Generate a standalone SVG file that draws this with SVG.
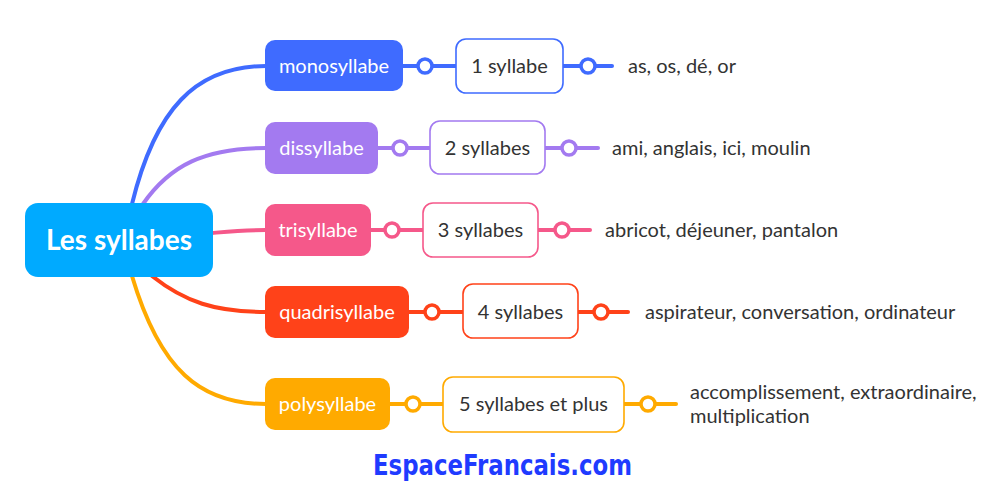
<svg xmlns="http://www.w3.org/2000/svg" width="1000" height="492" viewBox="0 0 1000 492">
<style>
.t{font-family:Lato,"Open Sans","Liberation Sans",sans-serif;font-size:20px;}
.w{fill:#fff;text-anchor:middle;}
.d{fill:#333;}
.m{text-anchor:middle;}
.b2{fill:#fff;stroke-width:1.6;}
.c{fill:none;stroke-width:4;stroke-linecap:round;}
.k{fill:#fff;stroke-width:3.5;}
</style>
<rect width="1000" height="492" fill="#fff"/>
<g id="connectors" class="c">
<path d="M132 204 C155 110 195 66 266 66" stroke="#3F6BFF"/>
<path d="M143 204 C170 165 205 148 266 148" stroke="#A37AF0"/>
<path d="M212 233 C235 231 245 230 266 230" stroke="#F5588A"/>
<path d="M152 276 C185 302 215 312 266 312" stroke="#FF4219"/>
<path d="M132 276 C160 370 200 404 266 404" stroke="#FFAA00"/>
<g stroke="#3F6BFF"><line x1="403" y1="66" x2="456" y2="66"/><line x1="563" y1="66" x2="612" y2="66"/></g>
<g stroke="#A37AF0"><line x1="378" y1="148" x2="430" y2="148"/><line x1="545" y1="148" x2="598" y2="148"/></g>
<g stroke="#F5588A"><line x1="371" y1="230" x2="423" y2="230"/><line x1="538" y1="230" x2="590" y2="230"/></g>
<g stroke="#FF4219"><line x1="409" y1="312" x2="463" y2="312"/><line x1="578" y1="312" x2="628" y2="312"/></g>
<g stroke="#FFAA00"><line x1="390" y1="404" x2="443" y2="404"/><line x1="624" y1="404" x2="676" y2="404"/></g>
<g stroke="#3F6BFF" class="k"><circle cx="425" cy="66" r="7"/><circle cx="588" cy="66" r="7"/></g>
<g stroke="#A37AF0" class="k"><circle cx="400" cy="148" r="7"/><circle cx="569" cy="148" r="7"/></g>
<g stroke="#F5588A" class="k"><circle cx="392" cy="230" r="7"/><circle cx="562" cy="230" r="7"/></g>
<g stroke="#FF4219" class="k"><circle cx="432" cy="312" r="7"/><circle cx="601" cy="312" r="7"/></g>
<g stroke="#FFAA00" class="k"><circle cx="413" cy="404" r="7"/><circle cx="648" cy="404" r="7"/></g>
</g>
<g id="root"><rect x="25" y="203" width="188" height="74" rx="13" fill="#00AAFF"/><text x="119" y="250" class="t w" style="font-size:28px;font-weight:bold">Les syllabes</text></g>
<g id="mono"><rect x="265" y="40" width="138" height="51" rx="10" fill="#3F6BFF"/><text x="334" y="73" class="t w">monosyllabe</text></g>
<g id="di"><rect x="265" y="122" width="113" height="52" rx="10" fill="#A37AF0"/><text x="321.5" y="155" class="t w">dissyllabe</text></g>
<g id="tri"><rect x="265" y="204" width="106" height="52" rx="10" fill="#F5588A"/><text x="318" y="237" class="t w">trisyllabe</text></g>
<g id="quadri"><rect x="265" y="286" width="144" height="52" rx="10" fill="#FF4219"/><text x="337" y="319" class="t w">quadrisyllabe</text></g>
<g id="poly"><rect x="265" y="378" width="125" height="52" rx="10" fill="#FFAA00"/><text x="327.5" y="411" class="t w">polysyllabe</text></g>
<g id="s1"><rect x="456" y="39" width="107" height="54" rx="10" class="b2" stroke="#3F6BFF"/><text x="509.5" y="73" class="t d m">1 syllabe</text></g>
<g id="s2"><rect x="430" y="121" width="115" height="53" rx="10" class="b2" stroke="#A37AF0"/><text x="487.5" y="155" class="t d m">2 syllabes</text></g>
<g id="s3"><rect x="423" y="203" width="115" height="54" rx="10" class="b2" stroke="#F5588A"/><text x="480.5" y="237" class="t d m">3 syllabes</text></g>
<g id="s4"><rect x="463" y="284" width="115" height="54" rx="10" class="b2" stroke="#FF4219"/><text x="520.5" y="319" class="t d m">4 syllabes</text></g>
<g id="s5"><rect x="443" y="377" width="181" height="55" rx="10" class="b2" stroke="#FFAA00"/><text x="533.5" y="411" class="t d m">5 syllabes et plus</text></g>
<g id="e1"><text x="628" y="73" class="t d">as, os, dé, or</text></g>
<g id="e2"><text x="612" y="155" class="t d">ami, anglais, ici, moulin</text></g>
<g id="e3"><text x="605" y="237" class="t d">abricot, déjeuner, pantalon</text></g>
<g id="e4"><text x="645" y="319" class="t d">aspirateur, conversation, ordinateur</text></g>
<g id="e5"><text x="690" y="399" class="t d">accomplissement, extraordinaire,</text><text x="690" y="423" class="t d">multiplication</text></g>
<text x="373" y="475" textLength="259" lengthAdjust="spacingAndGlyphs" style="font-family:'DejaVu Sans','Liberation Sans',sans-serif;font-weight:bold;font-size:28px;font-stretch:condensed;fill:#1F3BFF">EspaceFrancais.com</text>
</svg>
